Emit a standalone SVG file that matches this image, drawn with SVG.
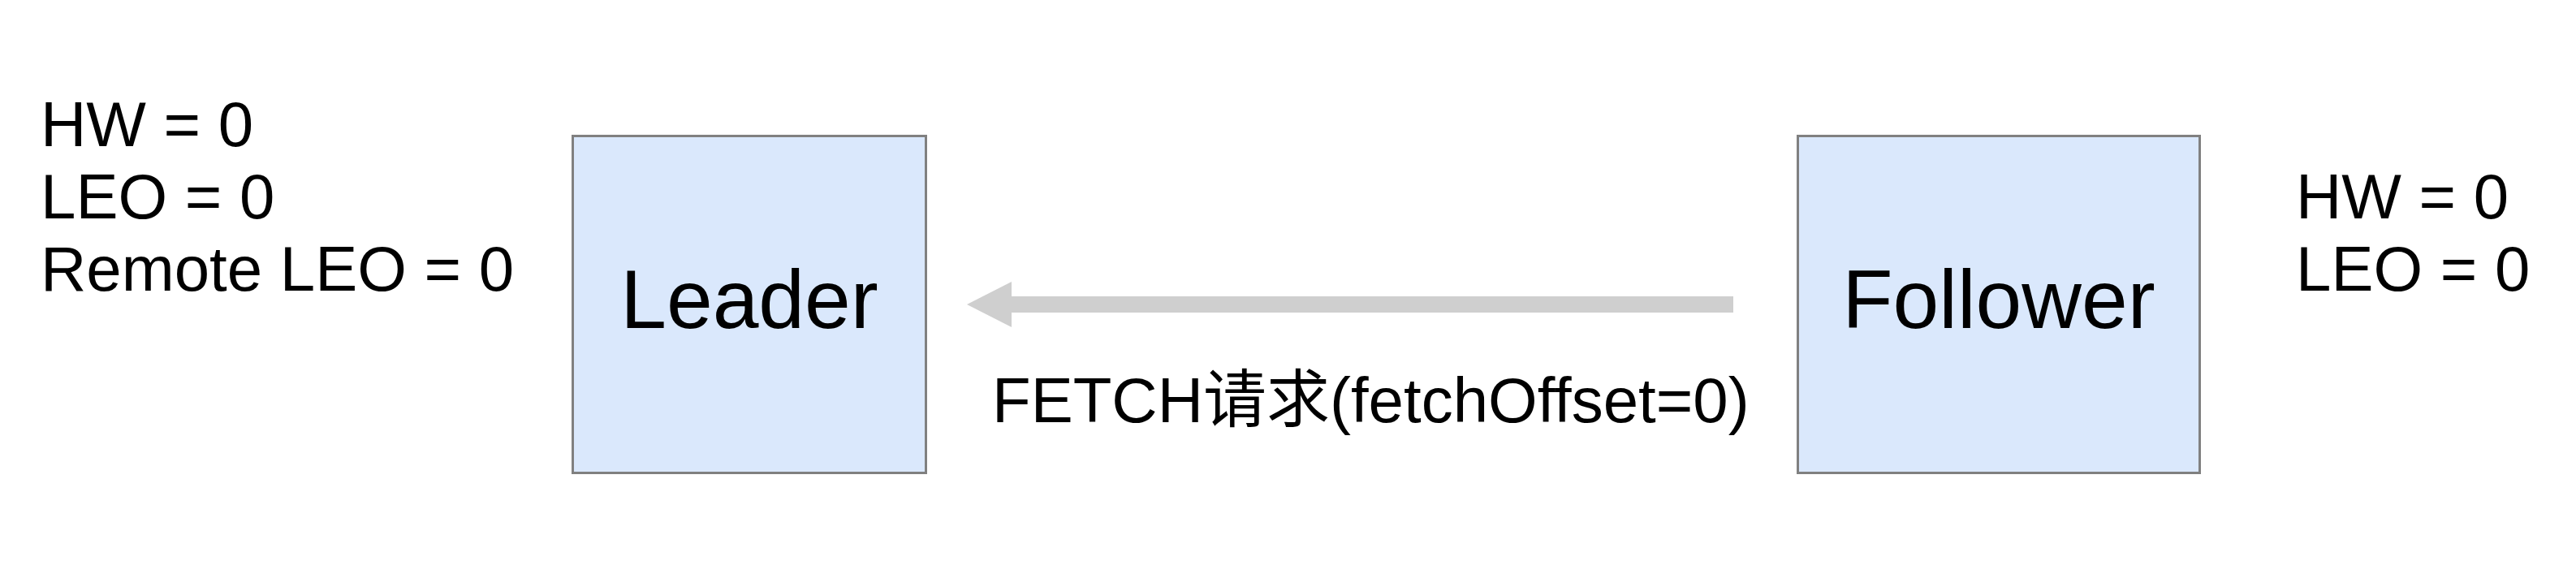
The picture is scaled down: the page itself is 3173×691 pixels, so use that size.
<svg xmlns="http://www.w3.org/2000/svg" width="3173" height="691" viewBox="0 0 3173 691">
<style>
.box{fill:#dae8fc;stroke:#808080;stroke-width:3}
.t{font-family:"Liberation Sans","Noto Sans CJK SC",sans-serif;fill:#000}
.big{font-size:102px}
.lab{font-size:78px}
</style>
<rect width="3173" height="691" fill="#ffffff"/>
<g id="leader-state">
<text class="t lab" x="50" y="180">HW = 0</text>
<text class="t lab" x="50" y="269">LEO = 0</text>
<text class="t lab" x="50" y="358">Remote LEO = 0</text>
</g>
<g id="leader">
<rect class="box" x="705.5" y="167.5" width="435" height="415"/>
<text class="t big" x="923" y="404" text-anchor="middle">Leader</text>
</g>
<g id="follower">
<rect class="box" x="2214.5" y="167.5" width="495" height="415"/>
<text class="t big" x="2462" y="404" text-anchor="middle">Follower</text>
</g>
<g id="follower-state">
<text class="t lab" x="2828" y="269">HW = 0</text>
<text class="t lab" x="2828" y="358">LEO = 0</text>
</g>
<g id="connectors">
<rect x="1245" y="365" width="890" height="20" fill="#cfcfcf"/>
<polygon points="1191,375 1246,347 1246,403" fill="#cfcfcf"/>
<text class="t lab" x="1222" y="520">FETCH请求(fetchOffset=0)</text>
</g>
</svg>
